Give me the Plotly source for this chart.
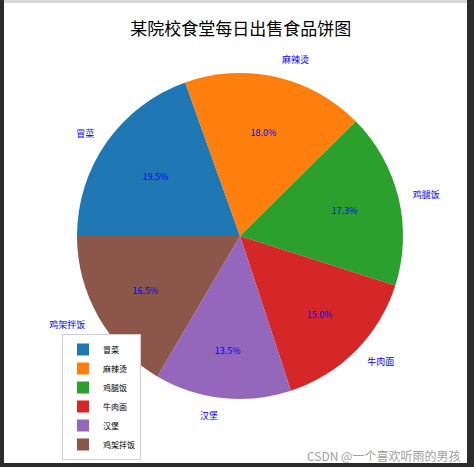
import plotly.graph_objects as go

foods = ['冒菜', '麻辣烫', '鸡腿饭', '牛肉面', '汉堡', '鸡架拌饭']
shares = [19.5, 18.0, 17.3, 15.0, 13.5, 16.5]
colors = ['#1f77b4', '#ff7f0e', '#2ca02c', '#d62728', '#9467bd', '#8c564b']

W, H = 474, 467
cx, cy, r = 240, 236, 163
font = 'Noto Sans CJK SC, Noto Sans, sans-serif'


def dom(scale):
    rr = r * scale
    return dict(x=[(cx - rr) / W, (cx + rr) / W],
                y=[(H - cy - rr) / H, (H - cy + rr) / H])


fig = go.Figure()

# slices with percentages inside
fig.add_trace(go.Pie(
    labels=foods, values=shares, sort=False,
    direction='clockwise', rotation=270,
    marker=dict(colors=colors, line=dict(width=0)),
    texttemplate='%{percent:.1%}', textposition='inside',
    insidetextorientation='horizontal',
    textfont=dict(color='blue', size=9, family=font),
    domain=dom(1.0), hoverinfo='label+percent',
))

# transparent copy, only for the outer names
fig.add_trace(go.Pie(
    labels=foods, values=shares, sort=False,
    direction='clockwise', rotation=270,
    marker=dict(colors=['rgba(0,0,0,0)'] * len(foods), line=dict(width=0)),
    textinfo='label', textposition='outside',
    outsidetextfont=dict(color='blue', size=9, family=font),
    domain=dom(1.07), showlegend=False, hoverinfo='skip',
))

fig.update_layout(
    width=W, height=H,
    margin=dict(l=0, r=0, t=0, b=0),
    paper_bgcolor='#2b2b2b',
    title=dict(text='某院校食堂每日出售食品饼图', x=0.508, xanchor='center',
               y=1 - 29 / H, yanchor='middle',
               font=dict(family=font, size=17, color='black')),
    legend=dict(x=62 / W, y=1 - 334 / H, xanchor='left', yanchor='top',
                bgcolor='white', bordercolor='#d0d0d0', borderwidth=1,
                font=dict(family=font, size=8, color='black'),
                traceorder='normal', itemwidth=30),
    shapes=[dict(type='rect', xref='paper', yref='paper', layer='below',
                 x0=4 / W, x1=467 / W, y0=1 - 463 / H, y1=1 - 3 / H,
                 fillcolor='white', line=dict(width=0)),
            dict(type='rect', xref='paper', yref='paper', layer='below',
                 x0=4 / W, x1=467 / W, y0=1 - 3 / H, y1=1,
                 fillcolor='#d8d8d8', line=dict(width=0))],
    annotations=[dict(text='CSDN @一个喜欢听雨的男孩', xref='paper', yref='paper',
                      x=462 / W, y=1 - 455 / H, xanchor='right', yanchor='middle',
                      showarrow=False,
                      font=dict(family=font, size=12, color='#a0a0a0'))],
)

# drop the default page margin so the figure sits at the window corner
fig.write_html('out.html', config={'displayModeBar': False},
               post_script="document.body.style.margin='0';"
                           "document.body.style.overflow='hidden';")
